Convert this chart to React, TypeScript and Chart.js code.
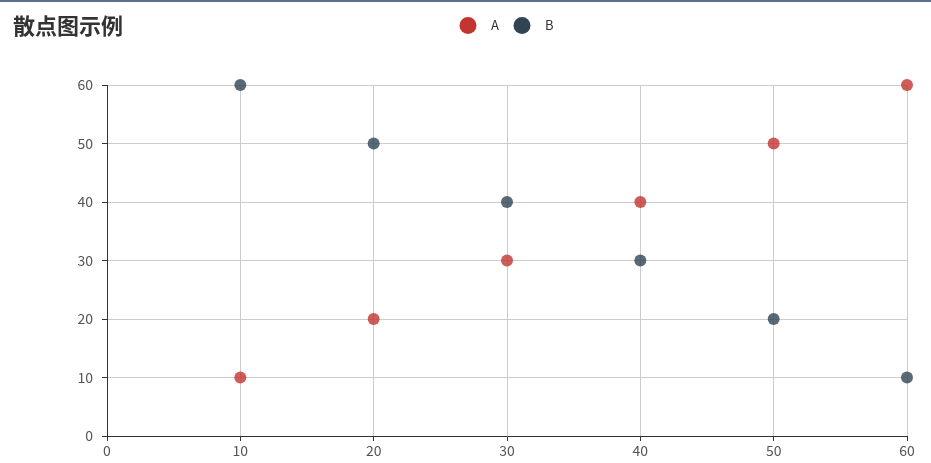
import { useEffect, useRef } from 'react'
import { Chart, registerables } from 'chart.js'

Chart.register(...registerables)

const title = '散点图示例'
const seriesNames = ['A', 'B']
const seriesColors = ['#c23531', '#2f4554']
const seriesFill = ['rgba(194,53,49,0.8)', 'rgba(47,69,84,0.8)']
const xValues = [10, 20, 30, 40, 50, 60]
const aValues = [10, 20, 30, 40, 50, 60]
const bValues = [60, 50, 40, 30, 20, 10]
const axisMin = 0
const axisMax = 60
const axisStep = 10

const FONT = '"Noto Sans CJK SC", "Noto Sans", sans-serif'

const headerPlugin = {
  id: 'header',
  afterDraw(chart: Chart) {
    const c = chart.ctx
    c.save()
    c.fillStyle = '#333'
    c.font = `bold 22px ${FONT}`
    c.textBaseline = 'middle'
    c.textAlign = 'left'
    c.fillText(title, 13, 26)

    // legend
    c.font = `13px ${FONT}`
    let x = 468
    seriesNames.forEach((name, i) => {
      c.fillStyle = seriesColors[i]
      c.beginPath()
      c.arc(x, 25.5, 8.5, 0, Math.PI * 2)
      c.fill()
      c.fillStyle = '#333'
      c.fillText(name, x + 23, 25.5)
      x += 54
    })
    c.restore()
  },
}

export default function App() {
  const canvasRef = useRef<HTMLCanvasElement>(null)
  const chartRef = useRef<Chart | null>(null)

  useEffect(() => {
    if (!canvasRef.current) return
    if (chartRef.current) { chartRef.current.destroy(); chartRef.current = null }

    const ctx = canvasRef.current.getContext('2d')!
    const toPoints = (ys: number[]) => xValues.map((x, i) => ({ x, y: ys[i] }))

    chartRef.current = new Chart(ctx, {
      type: 'scatter',
      data: {
        datasets: [aValues, bValues].map((vals, i) => ({
          label: seriesNames[i],
          data: toPoints(vals),
          backgroundColor: seriesFill[i],
          borderWidth: 0,
          pointRadius: 6,
          pointHoverRadius: 6,
          clip: false as any,
        })),
      },
      options: {
        animation: false,
        responsive: false,
        devicePixelRatio: 1,
        layout: { padding: { left: 0, right: 24, top: 85, bottom: 0 } },
        plugins: {
          legend: { display: false },
          title: { display: false },
          tooltip: { enabled: false },
        },
        scales: {
          x: {
            type: 'linear',
            min: axisMin,
            max: axisMax,
            ticks: { stepSize: axisStep, color: '#555', font: { family: FONT, size: 14 }, padding: 1 },
            grid: { color: '#ccc', tickColor: '#333', tickLength: 5 },
            border: { color: '#333', width: 1 },
            afterFit: (s: any) => { s.height = 27 },
          },
          y: {
            type: 'linear',
            min: axisMin,
            max: axisMax,
            ticks: { stepSize: axisStep, color: '#555', font: { family: FONT, size: 14 }, padding: 9 },
            grid: { color: '#ccc', tickColor: '#333', tickLength: 5 },
            border: { color: '#333', width: 1 },
            afterFit: (s: any) => { s.width = 107 },
          },
        },
      },
      plugins: [headerPlugin],
    })

    return () => { chartRef.current?.destroy(); chartRef.current = null }
  }, [])

  return (
    <div style={{ position: 'absolute', left: 0, top: 0, width: 931, height: 463, background: '#fff' }}>
      <div style={{ position: 'absolute', left: 0, top: 0, width: 931, height: 2, background: '#5a6e95' }} />
      <canvas ref={canvasRef} width={931} height={463} style={{ width: 931, height: 463, display: 'block' }} />
    </div>
  )
}
